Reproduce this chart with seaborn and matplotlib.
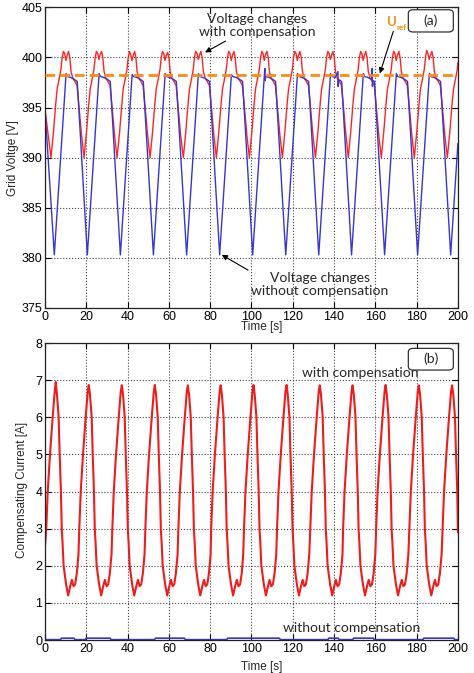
import matplotlib
matplotlib.use('Agg')
import matplotlib.pyplot as plt
import seaborn as sns
from matplotlib.patches import FancyBboxPatch

# (a) grid voltage with compensation (red), one row per cycle
t_with = [0.0,
    2.9, 4.1, 5.2, 5.9, 6.7, 7.7, 8.3, 8.9, 9.5, 10.1, 10.7, 11.4, 12.0, 12.6, 13.5, 14.5, 15.5, 16.5, 17.7,
    18.9, 20.1, 21.2, 21.9, 22.7, 23.7, 24.3, 24.9, 25.5, 26.1, 26.7, 27.4, 28.0, 28.6, 29.5, 30.5, 31.5, 32.5, 33.7,
    34.9, 36.1, 37.2, 37.9, 38.7, 39.7, 40.3, 40.9, 41.5, 42.1, 42.7, 43.4, 44.0, 44.6, 45.5, 46.5, 47.5, 48.5, 49.7,
    50.9, 52.1, 53.2, 53.9, 54.7, 55.7, 56.3, 56.9, 57.5, 58.1, 58.7, 59.4, 60.0, 60.6, 61.5, 62.5, 63.5, 64.5, 65.7,
    67.0, 68.2, 69.3, 70.0, 70.8, 71.8, 72.4, 73.0, 73.6, 74.2, 74.8, 75.5, 76.1, 76.7, 77.6, 78.6, 79.6, 80.6, 81.8,
    83.0, 84.2, 85.3, 86.0, 86.8, 87.8, 88.4, 89.0, 89.6, 90.2, 90.8, 91.5, 92.1, 92.7, 93.6, 94.6, 95.6, 96.6, 97.8,
    99.0, 100.2, 101.3, 102.0, 102.8, 103.8, 104.4, 105.0, 105.6, 106.2, 106.8, 107.5, 108.1, 108.7, 109.6, 110.6, 111.6, 112.6, 113.8,
    115.0, 116.2, 117.3, 118.0, 118.8, 119.8, 120.4, 121.0, 121.6, 122.2, 122.8, 123.5, 124.1, 124.7, 125.6, 126.6, 127.6, 128.6, 129.8,
    131.0, 132.2, 133.3, 134.0, 134.8, 135.8, 136.4, 137.0, 137.6, 138.2, 138.8, 139.5, 140.1, 140.7, 141.6, 142.6, 143.6, 144.6, 145.8,
    146.9, 148.1, 149.2, 149.9, 150.7, 151.7, 152.3, 152.9, 153.5, 154.1, 154.7, 155.4, 156.0, 156.6, 157.5, 158.5, 159.5, 160.5, 161.7,
    162.9, 164.1, 165.2, 165.9, 166.7, 167.7, 168.3, 168.9, 169.5, 170.1, 170.7, 171.4, 172.0, 172.6, 173.5, 174.5, 175.5, 176.5, 177.7,
    178.9, 180.1, 181.2, 181.9, 182.7, 183.7, 184.3, 184.9, 185.5, 186.1, 186.7, 187.4, 188.0, 188.6, 189.5, 190.5, 191.5, 192.5, 193.7,
    194.9, 196.1, 197.2, 197.9, 198.7, 199.7, 200.0]
u_with = [394.8,
    390.0, 392.6, 395.4, 396.9, 397.7, 398.8, 400.0, 400.6, 400.4, 399.7, 400.2, 400.6, 400.0, 398.6, 397.9, 397.6, 397.2, 395.0, 392.2,
    390.0, 392.6, 395.4, 396.9, 397.7, 398.8, 400.0, 400.6, 400.4, 399.8, 400.3, 400.6, 400.0, 398.6, 397.9, 397.6, 397.2, 395.0, 392.2,
    390.0, 392.5, 395.3, 396.9, 397.7, 398.8, 400.0, 400.6, 400.3, 399.7, 400.2, 400.6, 400.0, 398.6, 397.9, 397.6, 397.2, 395.0, 392.2,
    390.0, 392.6, 395.4, 396.9, 397.7, 398.8, 400.0, 400.6, 400.4, 399.7, 400.2, 400.5, 400.0, 398.6, 397.9, 397.6, 397.2, 395.0, 392.2,
    390.0, 392.6, 395.4, 396.9, 397.7, 398.8, 400.0, 400.6, 400.4, 399.8, 400.2, 400.6, 400.0, 398.6, 397.9, 397.6, 397.2, 395.0, 392.2,
    390.0, 392.6, 395.4, 396.9, 397.7, 398.8, 400.0, 400.6, 400.4, 399.7, 400.2, 400.6, 400.0, 398.6, 397.9, 397.6, 397.2, 395.0, 392.2,
    390.0, 392.6, 395.4, 396.9, 397.7, 398.8, 400.0, 400.6, 400.4, 399.7, 400.3, 400.6, 400.0, 398.6, 397.9, 397.6, 397.2, 395.0, 392.2,
    390.0, 392.6, 395.4, 396.9, 397.7, 398.8, 400.0, 400.6, 400.4, 399.7, 400.2, 400.6, 400.0, 398.6, 397.9, 397.6, 397.2, 395.0, 392.2,
    390.0, 392.6, 395.4, 396.9, 397.7, 398.8, 400.0, 400.6, 400.4, 399.8, 400.2, 400.6, 400.0, 398.6, 397.9, 397.6, 397.2, 395.0, 392.2,
    390.0, 392.6, 395.4, 396.9, 397.7, 398.8, 400.0, 400.6, 400.4, 399.7, 400.2, 400.6, 400.0, 398.6, 397.9, 397.6, 397.2, 395.0, 392.2,
    390.0, 392.6, 395.4, 396.9, 397.7, 398.8, 400.0, 400.6, 400.4, 399.7, 400.2, 400.6, 400.0, 398.6, 397.9, 397.6, 397.2, 395.0, 392.2,
    390.0, 392.6, 395.4, 396.9, 397.7, 398.8, 400.0, 400.7, 400.4, 399.8, 400.2, 400.6, 400.0, 398.6, 397.9, 397.6, 397.2, 395.0, 392.2,
    390.0, 392.6, 395.4, 396.9, 397.7, 398.8, 399.5]

# (a) grid voltage without compensation (blue)
t_without = [0.0,
    4.5, 7.3, 10.2, 10.8, 12.5, 14.3, 15.6,
    20.5, 23.3, 26.2, 26.8, 28.5, 30.3, 31.6,
    36.5, 39.3, 42.2, 42.8, 44.5, 46.3, 47.6,
    52.5, 55.3, 58.2, 58.8, 60.5, 62.3, 63.6,
    68.6, 71.4, 74.3, 74.9, 76.6, 78.4, 79.7,
    84.6, 87.4, 90.3, 90.9, 92.6, 94.4, 95.7,
    100.6, 103.4, 106.3, 106.5, 106.6, 106.9, 108.6, 110.4, 111.7,
    116.6, 119.4, 122.3, 122.9, 124.6, 126.4, 127.7,
    132.6, 135.4, 138.3, 138.9, 140.6, 141.9, 142.0, 142.2, 143.7,
    148.5, 151.3, 154.2, 154.8, 156.5, 158.3, 158.5, 158.6, 158.8, 159.6,
    164.5, 167.3, 170.2, 170.8, 172.5, 174.3, 175.6,
    180.5, 183.3, 186.2, 186.8, 188.5, 190.3, 191.6,
    196.5, 200.0]
u_without = [394.8,
    380.3, 389.2, 398.4, 398.1, 398.0, 397.8, 397.6,
    380.3, 389.2, 398.4, 398.1, 398.0, 397.8, 397.6,
    380.3, 389.2, 398.3, 398.1, 398.0, 397.8, 397.6,
    380.3, 389.2, 398.4, 398.1, 398.0, 397.8, 397.6,
    380.3, 389.2, 398.4, 398.1, 398.0, 397.8, 397.6,
    380.3, 389.2, 398.3, 398.1, 398.0, 397.8, 397.6,
    380.3, 389.2, 398.4, 398.9, 397.7, 398.1, 398.0, 397.8, 397.6,
    380.3, 389.2, 398.4, 398.1, 398.0, 397.8, 397.6,
    380.3, 389.2, 398.4, 398.1, 398.0, 398.6, 397.1, 397.8, 397.6,
    380.3, 389.2, 398.4, 398.1, 398.0, 397.8, 398.9, 397.1, 397.7, 397.6,
    380.3, 389.2, 398.4, 398.1, 398.0, 397.8, 397.6,
    380.3, 389.2, 398.4, 398.1, 398.0, 397.8, 397.6,
    380.3, 391.4]

u_ref = 398.2

# (b) compensating current with compensation (red)
t_comp = [0.0, 0.6, 1.3, 2.4, 3.7, 4.7,
    5.2, 5.8, 6.6, 7.1, 7.7, 8.1, 8.5, 9.0, 10.2, 11.2, 12.2, 13.0, 13.8, 14.6, 15.4, 16.2, 16.6, 17.3, 18.4, 19.7, 20.7,
    21.2, 21.8, 22.6, 23.1, 23.7, 24.1, 24.5, 25.0, 26.2, 27.2, 28.2, 29.0, 29.8, 30.6, 31.4, 32.2, 32.6, 33.3, 34.4, 35.7, 36.7,
    37.2, 37.8, 38.6, 39.1, 39.7, 40.1, 40.5, 41.0, 42.2, 43.2, 44.2, 45.0, 45.8, 46.6, 47.4, 48.2, 48.6, 49.3, 50.4, 51.7, 52.7,
    53.2, 53.8, 54.6, 55.1, 55.7, 56.1, 56.5, 57.0, 58.2, 59.2, 60.2, 61.0, 61.8, 62.6, 63.4, 64.2, 64.6, 65.3, 66.4, 67.7, 68.7,
    69.2, 69.8, 70.6, 71.1, 71.7, 72.1, 72.5, 73.0, 74.2, 75.2, 76.2, 77.0, 77.8, 78.6, 79.4, 80.2, 80.5, 81.2, 82.3, 83.6, 84.6,
    85.1, 85.7, 86.5, 87.0, 87.6, 88.0, 88.4, 88.9, 90.1, 91.1, 92.1, 92.9, 93.7, 94.5, 95.3, 96.0, 96.4, 97.1, 98.2, 99.5, 100.5,
    101.0, 101.6, 102.4, 102.9, 103.5, 103.9, 104.3, 104.8, 106.0, 107.0, 108.0, 108.8, 109.6, 110.4, 111.2, 112.0, 112.4, 113.1, 114.2, 115.5, 116.5,
    117.0, 117.6, 118.4, 118.9, 119.5, 119.9, 120.3, 120.8, 122.0, 123.0, 124.0, 124.8, 125.6, 126.4, 127.2, 128.0, 128.5, 129.2, 130.3, 131.6, 132.6,
    133.1, 133.7, 134.5, 135.0, 135.6, 136.0, 136.4, 136.9, 138.1, 139.1, 140.1, 140.9, 141.7, 142.5, 143.3, 144.1, 144.4, 145.1, 146.2, 147.5, 148.5,
    149.0, 149.6, 150.4, 150.9, 151.5, 151.9, 152.3, 152.8, 154.0, 155.0, 156.0, 156.8, 157.6, 158.4, 159.2, 160.0, 160.4, 161.1, 162.2, 163.5, 164.5,
    165.0, 165.6, 166.4, 166.9, 167.5, 167.9, 168.3, 168.8, 170.0, 171.0, 172.0, 172.8, 173.6, 174.4, 175.2, 176.0, 176.5, 177.2, 178.3, 179.6, 180.6,
    181.1, 181.7, 182.5, 183.0, 183.6, 184.0, 184.4, 184.9, 186.1, 187.1, 188.1, 188.9, 189.7, 190.5, 191.3, 192.1, 192.6, 193.3, 194.4, 195.7, 196.7,
    197.2, 197.8, 198.6, 199.1, 199.7, 200.0]
i_comp = [2.55, 3.0, 4.0, 5.0, 6.0, 6.7,
    6.95, 6.6, 6.0, 5.0, 4.0, 3.0, 2.6, 2.0, 1.5, 1.2, 1.45, 1.62, 1.45, 1.5, 1.8, 2.3, 3.0, 4.0, 5.0, 6.0, 6.7,
    6.87, 6.6, 6.0, 5.0, 4.0, 3.0, 2.6, 2.0, 1.5, 1.2, 1.45, 1.62, 1.45, 1.5, 1.8, 2.3, 3.0, 4.0, 5.0, 6.0, 6.7,
    6.86, 6.6, 6.0, 5.0, 4.0, 3.0, 2.6, 2.0, 1.5, 1.2, 1.45, 1.62, 1.45, 1.5, 1.8, 2.3, 3.0, 4.0, 5.0, 6.0, 6.7,
    6.87, 6.6, 6.0, 5.0, 4.0, 3.0, 2.6, 2.0, 1.5, 1.2, 1.45, 1.62, 1.45, 1.5, 1.8, 2.3, 3.0, 4.0, 5.0, 6.0, 6.7,
    6.86, 6.6, 6.0, 5.0, 4.0, 3.0, 2.6, 2.0, 1.5, 1.2, 1.45, 1.62, 1.45, 1.5, 1.8, 2.3, 3.0, 4.0, 5.0, 6.0, 6.7,
    6.86, 6.6, 6.0, 5.0, 4.0, 3.0, 2.6, 2.0, 1.5, 1.2, 1.45, 1.62, 1.45, 1.5, 1.8, 2.3, 3.0, 4.0, 5.0, 6.0, 6.7,
    6.87, 6.6, 6.0, 5.0, 4.0, 3.0, 2.6, 2.0, 1.5, 1.2, 1.45, 1.62, 1.45, 1.5, 1.8, 2.3, 3.0, 4.0, 5.0, 6.0, 6.7,
    6.87, 6.6, 6.0, 5.0, 4.0, 3.0, 2.6, 2.0, 1.5, 1.2, 1.45, 1.62, 1.45, 1.5, 1.8, 2.3, 3.0, 4.0, 5.0, 6.0, 6.7,
    6.86, 6.6, 6.0, 5.0, 4.0, 3.0, 2.6, 2.0, 1.5, 1.2, 1.45, 1.62, 1.45, 1.5, 1.8, 2.3, 3.0, 4.0, 5.0, 6.0, 6.7,
    6.86, 6.6, 6.0, 5.0, 4.0, 3.0, 2.6, 2.0, 1.5, 1.2, 1.45, 1.62, 1.45, 1.5, 1.8, 2.3, 3.0, 4.0, 5.0, 6.0, 6.7,
    6.87, 6.6, 6.0, 5.0, 4.0, 3.0, 2.6, 2.0, 1.5, 1.2, 1.45, 1.62, 1.45, 1.5, 1.8, 2.3, 3.0, 4.0, 5.0, 6.0, 6.7,
    6.86, 6.6, 6.0, 5.0, 4.0, 3.0, 2.6, 2.0, 1.5, 1.2, 1.45, 1.62, 1.45, 1.5, 1.8, 2.3, 3.0, 4.0, 5.0, 6.0, 6.7,
    6.86, 6.6, 6.0, 5.0, 4.0, 2.9]

# (b) compensating current without compensation (blue)
t_nocomp = [0, 7.5, 8, 14, 14.5, 19.5, 20, 31.5, 32, 53, 53.5, 67.5, 68, 88, 88.5,
    113.5, 114, 137, 137.5, 142, 142.5, 149, 149.5, 159, 159.5, 183, 183.5, 198, 198.5, 200]
i_nocomp = [0.01, 0.01, 0.05, 0.05, 0.01, 0.01, 0.05, 0.05, 0.01, 0.01, 0.05, 0.05, 0.01, 0.01, 0.05,
    0.05, 0.01, 0.01, 0.05, 0.05, 0.01, 0.01, 0.05, 0.05, 0.01, 0.01, 0.05, 0.05, 0.01, 0.01]

RED = '#ff2424'
BLUE = '#3636d2'
ORANGE = '#ff8a12'

sns.set_style('ticks')
plt.rcParams['font.family'] = ['Liberation Sans', 'DejaVu Sans']

fig = plt.figure(figsize=(4.74, 6.73), dpi=100)
ax1 = fig.add_axes([0.095, 0.5424, 0.871, 0.4467])
ax2 = fig.add_axes([0.095, 0.049, 0.871, 0.4413])

for ax in (ax1, ax2):
    ax.grid(True, linestyle=':', color='#444444', linewidth=0.8)
    ax.tick_params(direction='in', length=4, width=0.8, top=True, right=True,
                   labelsize=9, pad=2, colors='black')
    for s in ax.spines.values():
        s.set_color('#222222')
        s.set_linewidth(0.9)
    ax.set_xlim(0, 200)
    ax.set_xticks(range(0, 201, 20))

# top panel
sns.lineplot(x=t_with, y=u_with, ax=ax1, color=RED, linewidth=1.0, estimator=None, sort=False)
sns.lineplot(x=t_without, y=u_without, ax=ax1, color=BLUE, linewidth=1.0, estimator=None, sort=False)
ax1.axhline(u_ref, color=ORANGE, linewidth=2.0, linestyle=(0, (3.5, 1.8)), zorder=5)
ax1.set_ylim(375, 405)
ax1.set_yticks(range(375, 406, 5))
ax1.set_xlabel('Time [s]', fontsize=8.5)
ax1.set_ylabel('Grid Voltge [V]', fontsize=8.5)
ax1.xaxis.set_label_coords(0.525, -0.045)
ax1.yaxis.set_label_coords(-0.064, 0.5)

ann = dict(family=['Lato', 'DejaVu Sans'], fontsize=10)
ax1.annotate('Voltage changes\nwith compensation', xy=(77.5, 400.5), xytext=(102.7, 403.2),
             ha='center', va='center', linespacing=1.1,
             arrowprops=dict(arrowstyle='-|>', color='black', lw=0.8, mutation_scale=8,
                             shrinkA=0, shrinkB=0, relpos=(0.28, 0.0)), **ann)
ax1.annotate('Voltage changes\nwithout compensation', xy=(85.6, 380.3), xytext=(133.2, 377.35),
             ha='center', va='center', linespacing=1.1,
             arrowprops=dict(arrowstyle='-|>', color='black', lw=0.8, mutation_scale=8,
                             shrinkA=0, shrinkB=0, relpos=(0.03, 0.9)), **ann)
ax1.annotate('', xy=(162.2, 398.4), xytext=(168.7, 402.6),
             arrowprops=dict(arrowstyle='-|>', color='black', lw=0.8, mutation_scale=8,
                             shrinkA=0, shrinkB=0))
ax1.text(165.6, 403.5, 'U', color=ORANGE, fontsize=9.5, fontweight='bold', va='center', ha='left',
         family=['Lato', 'DejaVu Sans'])
ax1.text(170.2, 402.95, 'ref', color=ORANGE, fontsize=5.8, fontweight='bold', va='center', ha='left',
         family=['Lato', 'DejaVu Sans'])

# bottom panel
sns.lineplot(x=t_comp, y=i_comp, ax=ax2, color='#ee1c1c', linewidth=1.5, estimator=None, sort=False)
sns.lineplot(x=t_nocomp, y=i_nocomp, ax=ax2, color=BLUE, linewidth=1.2, estimator=None, sort=False)
ax2.set_ylim(0, 8)
ax2.set_yticks(range(0, 9))
ax2.set_xlabel('Time [s]', fontsize=8.5)
ax2.set_ylabel('Compensating Current [A]', fontsize=8.5)
ax2.xaxis.set_label_coords(0.525, -0.07)
ax2.yaxis.set_label_coords(-0.042, 0.505)
ax2.text(152.5, 7.2, 'with compensation', ha='center', va='center', **ann)
ax2.text(148.5, 0.33, 'without compensation', ha='center', va='center', **ann)

# panel tags
for ax, tag, y0, y1 in ((ax1, '(a)', 0.918, 0.992), (ax2, '(b)', 0.909, 0.982)):
    box = FancyBboxPatch((0.880, y0), 0.109, y1 - y0, boxstyle='round,pad=0,rounding_size=0.012',
                         transform=ax.transAxes, facecolor='white', edgecolor='#333333',
                         linewidth=0.9, zorder=6)
    ax.add_patch(box)
    ax.text(0.9345, (y0 + y1) / 2, tag, transform=ax.transAxes, ha='center', va='center',
            fontsize=10, zorder=7, family=['Lato', 'DejaVu Sans'])

fig.savefig('out.png', dpi=100)
